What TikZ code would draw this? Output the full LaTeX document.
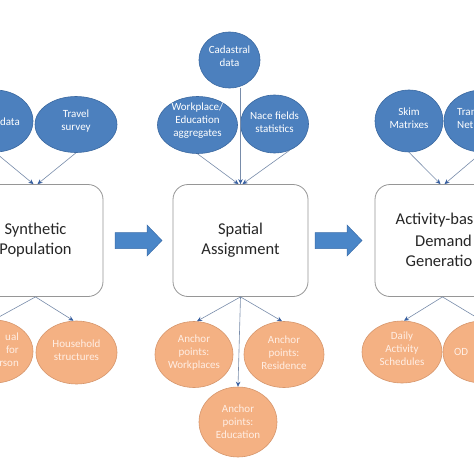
\documentclass[tikz,border=0pt]{standalone}
\usepackage{fontspec}
\setmainfont{Carlito}
\usetikzlibrary{shapes.geometric,arrows.meta,calc}
\definecolor{bfill}{RGB}{76,128,190}
\definecolor{bdraw}{RGB}{58,104,160}
\definecolor{ofill}{RGB}{244,177,131}
\definecolor{odraw}{RGB}{214,150,108}
\definecolor{otext}{RGB}{255,238,228}
\definecolor{boxdraw}{RGB}{150,150,150}
\definecolor{conncol}{RGB}{120,140,170}
\definecolor{tipcol}{RGB}{55,95,160}
\definecolor{arrfill}{RGB}{74,134,200}
\definecolor{arrdraw}{RGB}{60,110,170}
\tikzset{
  blueell/.style={ellipse,fill=bfill,draw=bdraw,line width=0.6pt,inner sep=0pt},
  orangeell/.style={ellipse,fill=ofill,draw=odraw,line width=0.6pt,inner sep=0pt},
  btext/.style={text=white,align=center,font=\fontsize{11}{13}\selectfont,inner sep=0pt},
  otxt/.style={text=otext,align=center,font=\fontsize{11}{13}\selectfont,inner sep=0pt},
  procbox/.style={rectangle,rounded corners=15pt,draw=boxdraw,fill=white,line width=0.8pt,
     minimum width=135pt,minimum height=112pt,inner sep=0pt},
  boxtext/.style={text=black!85,align=center,font=\fontsize{16.5}{20}\selectfont,inner sep=0pt},
  conn/.style={draw=conncol,line width=0.6pt,-{Stealth[length=5pt,width=4.5pt,color=tipcol]}},
  connplain/.style={draw=conncol,line width=0.6pt},
  blockarrow/.style={fill=arrfill,draw=arrdraw,line width=0.5pt}
}
\begin{document}
\begin{tikzpicture}[x=1pt,y=-1pt]
\useasboundingbox (0,0) rectangle (474,474);
\fill[white] (0,0) rectangle (474,474);
\clip (0,0) rectangle (474,474);

% process boxes
\node[procbox] (synth) at (35.5,240.5) {};
\node[boxtext] (synthT) at (35.5,240.5) {Synthetic\\Population};
\node[procbox] (spat) at (240.5,240.5) {};
\node[boxtext] (spatT) at (240.5,240.5) {Spatial\\Assignment};
\node[procbox] (act) at (442.5,240.5) {};
\node[boxtext,anchor=west] (actT1) at (395.5,220.5) {Activity-bas};
\node[boxtext] (actT2) at (443.5,240.5) {Demand};
\node[boxtext,anchor=west] (actT3) at (405.5,260.5) {Generatio};

% blue input ellipses
\node[blueell,minimum width=76pt,minimum height=62pt] (census) at (-5,121) {};
\node[btext,anchor=east] (censusT) at (20,122) {data};
\node[blueell,minimum width=82pt,minimum height=56pt] (travel) at (76,124.5) {};
\node[btext] (travelT) at (76,121) {Travel\\survey};
\node[blueell,minimum width=61pt,minimum height=56pt] (cad) at (229.5,60) {};
\node[btext] (cadT) at (229.5,56) {Cadastral\\data};
\node[blueell,minimum width=80pt,minimum height=57pt] (work) at (197.5,125) {};
\node[btext] (workT) at (197.5,121) {Workplace/\\Education\\aggregates};
\node[blueell,minimum width=68pt,minimum height=58pt] (nace) at (274.5,124) {};
\node[btext] (naceT) at (274.5,122) {Nace fields\\statistics};
\node[blueell,minimum width=68pt,minimum height=62pt] (skim) at (409,121) {};
\node[btext] (skimT) at (409,118) {Skim\\Matrixes};
\node[blueell,minimum width=76pt,minimum height=62pt] (trans) at (482,121) {};
\node[btext,anchor=west,align=left] (transT) at (457,119) {Tran\\Net};

% orange output ellipses
\node[orangeell,minimum width=78pt,minimum height=63pt] (indiv) at (-6,351.5) {};
\node[otxt,anchor=east,align=right] (indivT) at (19,350) {ual\\for\\rson};
\node[orangeell,minimum width=81pt,minimum height=63pt] (house) at (76.5,352.5) {};
\node[otxt] (houseT) at (76.5,350) {Household\\structures};
\node[orangeell,minimum width=78pt,minimum height=66pt] (wp) at (194,354.5) {};
\node[otxt] (wpT) at (194,353) {Anchor\\points:\\Workplaces};
\node[orangeell,minimum width=80pt,minimum height=66pt] (res) at (284,354.5) {};
\node[otxt] (resT) at (284,353) {Anchor\\points:\\Residence};
\node[orangeell,minimum width=78pt,minimum height=70pt] (edu) at (238,422) {};
\node[otxt] (eduT) at (238,422) {Anchor\\points:\\Education};
\node[orangeell,minimum width=80pt,minimum height=62pt] (daily) at (402,352) {};
\node[otxt] (dailyT) at (402,349) {Daily\\Activity\\Schedules};
\node[orangeell,minimum width=78pt,minimum height=62pt] (od) at (482,352) {};
\node[otxt,anchor=west] (odT) at (454,352) {OD};

% input connectors
\draw[conn] (census.south) -- ([xshift=-2pt]synth.north);
\draw[conn] (travel.south) -- ([xshift=2pt]synth.north);
\draw[conn] (work.south) -- ([xshift=-2pt]spat.north);
\draw[conn] (cad.south -| spat.north) -- (spat.north);
\draw[conn] (nace.-60) -- ([xshift=2pt]spat.north);
\draw[conn] (skim.south) -- ([xshift=-2pt]act.north);
\draw[conn] (trans.south) -- ([xshift=2pt]act.north);

% output connectors
\draw[conn] (synth.south) -- (indiv.north);
\draw[conn] (synth.south) -- ([xshift=-3pt]house.north);
\draw[conn] (spat.south) -- ([xshift=3pt]wp.north);
\draw[conn] (spat.south) -- ([xshift=-2pt]res.north);
\draw[conn] (spat.south) -- (edu.north);
\draw[conn] (act.south) -- ([xshift=2pt]daily.north);
\draw[conn] (act.south) -- (od.north);

% block arrows
\draw[blockarrow] (115,232.5) -- (147,232.5) -- (147,225) -- (162,240.5) -- (147,256) -- (147,248.5) -- (115,248.5) -- cycle;
\draw[blockarrow] (315,232.5) -- (347,232.5) -- (347,225) -- (362,240.5) -- (347,256) -- (347,248.5) -- (315,248.5) -- cycle;
\end{tikzpicture}
\end{document}
